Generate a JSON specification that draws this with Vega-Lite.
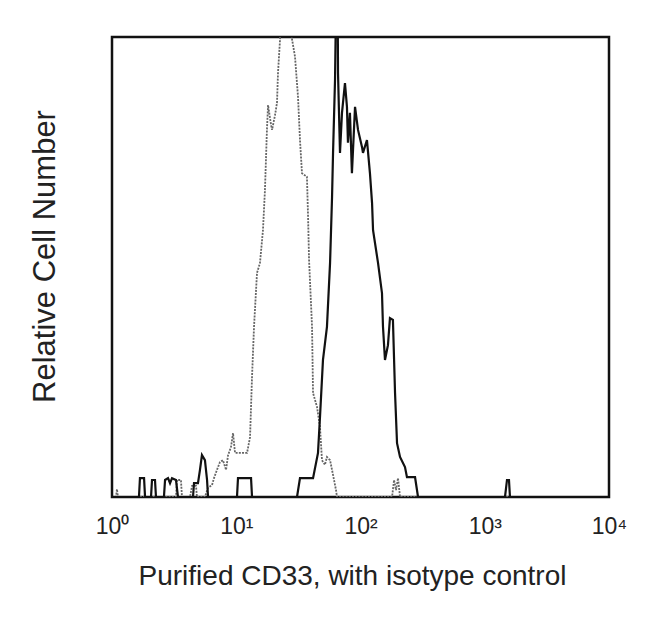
{
  "$schema": "https://vega.github.io/schema/vega-lite/v6.json",
  "width": 497,
  "height": 460,
  "autosize": {"type": "none"},
  "padding": {"left": 112, "top": 37, "right": 41, "bottom": 125},
  "config": {
    "view": {"stroke": "#111", "strokeWidth": 2.5},
    "font": "Liberation Sans"
  },
  "datasets": {
    "isotype": [
      {"log_intensity": 0.000, "cells": 0},
      {"log_intensity": 0.032, "cells": 0},
      {"log_intensity": 0.040, "cells": 1.7},
      {"log_intensity": 0.048, "cells": 0},
      {"log_intensity": 0.515, "cells": 0},
      {"log_intensity": 0.523, "cells": 3.7},
      {"log_intensity": 0.555, "cells": 3.7},
      {"log_intensity": 0.563, "cells": 0},
      {"log_intensity": 0.628, "cells": 0},
      {"log_intensity": 0.644, "cells": 2.4},
      {"log_intensity": 0.676, "cells": 2.4},
      {"log_intensity": 0.684, "cells": 0},
      {"log_intensity": 0.748, "cells": 0},
      {"log_intensity": 0.773, "cells": 2.0},
      {"log_intensity": 0.805, "cells": 2.6},
      {"log_intensity": 0.821, "cells": 4.1},
      {"log_intensity": 0.845, "cells": 5.9},
      {"log_intensity": 0.869, "cells": 7.6},
      {"log_intensity": 0.893, "cells": 8.0},
      {"log_intensity": 0.918, "cells": 5.9},
      {"log_intensity": 0.934, "cells": 9.1},
      {"log_intensity": 0.958, "cells": 10.9},
      {"log_intensity": 0.974, "cells": 13.9},
      {"log_intensity": 0.990, "cells": 9.6},
      {"log_intensity": 1.087, "cells": 9.6},
      {"log_intensity": 1.111, "cells": 13.0},
      {"log_intensity": 1.127, "cells": 26.1},
      {"log_intensity": 1.143, "cells": 37.0},
      {"log_intensity": 1.167, "cells": 48.7},
      {"log_intensity": 1.191, "cells": 50.9},
      {"log_intensity": 1.215, "cells": 58.0},
      {"log_intensity": 1.231, "cells": 66.7},
      {"log_intensity": 1.247, "cells": 79.8},
      {"log_intensity": 1.256, "cells": 85.2},
      {"log_intensity": 1.280, "cells": 80.9},
      {"log_intensity": 1.288, "cells": 79.8},
      {"log_intensity": 1.312, "cells": 83.0},
      {"log_intensity": 1.328, "cells": 85.7},
      {"log_intensity": 1.336, "cells": 92.2},
      {"log_intensity": 1.352, "cells": 99.3},
      {"log_intensity": 1.368, "cells": 115},
      {"log_intensity": 1.425, "cells": 120},
      {"log_intensity": 1.449, "cells": 99.5},
      {"log_intensity": 1.473, "cells": 95.7},
      {"log_intensity": 1.497, "cells": 87.0},
      {"log_intensity": 1.513, "cells": 77.6},
      {"log_intensity": 1.529, "cells": 70.4},
      {"log_intensity": 1.569, "cells": 69.6},
      {"log_intensity": 1.578, "cells": 60.9},
      {"log_intensity": 1.586, "cells": 51.5},
      {"log_intensity": 1.610, "cells": 37.0},
      {"log_intensity": 1.618, "cells": 22.6},
      {"log_intensity": 1.650, "cells": 19.6},
      {"log_intensity": 1.674, "cells": 15.2},
      {"log_intensity": 1.690, "cells": 8.0},
      {"log_intensity": 1.714, "cells": 7.0},
      {"log_intensity": 1.730, "cells": 8.7},
      {"log_intensity": 1.755, "cells": 8.0},
      {"log_intensity": 1.779, "cells": 4.8},
      {"log_intensity": 1.803, "cells": 1.5},
      {"log_intensity": 1.811, "cells": 0},
      {"log_intensity": 2.254, "cells": 0},
      {"log_intensity": 2.270, "cells": 3.7},
      {"log_intensity": 2.286, "cells": 1.5},
      {"log_intensity": 2.302, "cells": 4.1},
      {"log_intensity": 2.318, "cells": 0},
      {"log_intensity": 4.000, "cells": 0}
    ],
    "cd33": [
      {"log_intensity": 0.000, "cells": 0},
      {"log_intensity": 0.217, "cells": 0},
      {"log_intensity": 0.225, "cells": 4.1},
      {"log_intensity": 0.258, "cells": 4.1},
      {"log_intensity": 0.266, "cells": 0},
      {"log_intensity": 0.314, "cells": 0},
      {"log_intensity": 0.322, "cells": 3.7},
      {"log_intensity": 0.346, "cells": 3.7},
      {"log_intensity": 0.354, "cells": 0},
      {"log_intensity": 0.418, "cells": 0},
      {"log_intensity": 0.427, "cells": 3.7},
      {"log_intensity": 0.451, "cells": 4.1},
      {"log_intensity": 0.467, "cells": 3.0},
      {"log_intensity": 0.483, "cells": 4.1},
      {"log_intensity": 0.515, "cells": 3.7},
      {"log_intensity": 0.531, "cells": 0},
      {"log_intensity": 0.652, "cells": 0},
      {"log_intensity": 0.660, "cells": 3.0},
      {"log_intensity": 0.692, "cells": 3.0},
      {"log_intensity": 0.708, "cells": 5.9},
      {"log_intensity": 0.724, "cells": 9.1},
      {"log_intensity": 0.748, "cells": 8.0},
      {"log_intensity": 0.765, "cells": 3.7},
      {"log_intensity": 0.773, "cells": 0},
      {"log_intensity": 1.006, "cells": 0},
      {"log_intensity": 1.014, "cells": 4.1},
      {"log_intensity": 1.119, "cells": 4.1},
      {"log_intensity": 1.127, "cells": 0},
      {"log_intensity": 1.489, "cells": 0},
      {"log_intensity": 1.513, "cells": 4.1},
      {"log_intensity": 1.618, "cells": 4.1},
      {"log_intensity": 1.658, "cells": 9.6},
      {"log_intensity": 1.674, "cells": 17.4},
      {"log_intensity": 1.698, "cells": 29.8},
      {"log_intensity": 1.730, "cells": 37.0},
      {"log_intensity": 1.755, "cells": 50.9},
      {"log_intensity": 1.771, "cells": 65.2},
      {"log_intensity": 1.779, "cells": 74.8},
      {"log_intensity": 1.795, "cells": 90.7},
      {"log_intensity": 1.807, "cells": 115},
      {"log_intensity": 1.815, "cells": 115},
      {"log_intensity": 1.819, "cells": 92.2},
      {"log_intensity": 1.835, "cells": 74.8},
      {"log_intensity": 1.851, "cells": 83.5},
      {"log_intensity": 1.875, "cells": 90.0},
      {"log_intensity": 1.891, "cells": 84.8},
      {"log_intensity": 1.899, "cells": 77.0},
      {"log_intensity": 1.915, "cells": 83.5},
      {"log_intensity": 1.931, "cells": 70.4},
      {"log_intensity": 1.956, "cells": 84.8},
      {"log_intensity": 1.980, "cells": 79.8},
      {"log_intensity": 2.012, "cells": 76.1},
      {"log_intensity": 2.020, "cells": 74.8},
      {"log_intensity": 2.052, "cells": 77.6},
      {"log_intensity": 2.076, "cells": 70.4},
      {"log_intensity": 2.093, "cells": 63.9},
      {"log_intensity": 2.101, "cells": 58.0},
      {"log_intensity": 2.141, "cells": 50.9},
      {"log_intensity": 2.173, "cells": 44.3},
      {"log_intensity": 2.181, "cells": 37.0},
      {"log_intensity": 2.197, "cells": 29.8},
      {"log_intensity": 2.221, "cells": 33.0},
      {"log_intensity": 2.237, "cells": 38.9},
      {"log_intensity": 2.261, "cells": 38.5},
      {"log_intensity": 2.278, "cells": 22.6},
      {"log_intensity": 2.294, "cells": 11.7},
      {"log_intensity": 2.318, "cells": 8.7},
      {"log_intensity": 2.358, "cells": 6.5},
      {"log_intensity": 2.374, "cells": 4.3},
      {"log_intensity": 2.439, "cells": 4.3},
      {"log_intensity": 2.463, "cells": 0},
      {"log_intensity": 3.163, "cells": 0},
      {"log_intensity": 3.179, "cells": 3.7},
      {"log_intensity": 3.195, "cells": 3.7},
      {"log_intensity": 3.203, "cells": 0},
      {"log_intensity": 4.000, "cells": 0}
    ]
  },
  "encoding": {
    "x": {
      "field": "log_intensity",
      "type": "quantitative",
      "scale": {"domain": [0, 4], "nice": false, "zero": false},
      "axis": {
        "values": [0, 1, 2, 3, 4],
        "labelExpr": "['10⁰','10¹','10²','10³','10⁴'][datum.value]",
        "ticks": false,
        "tickSize": 0,
        "domain": false,
        "grid": false,
        "labelFlush": false,
        "labelFontSize": 23,
        "labelPadding": 36,
        "labelBaseline": "alphabetic",
        "labelColor": "#222",
        "title": "Purified CD33, with isotype control",
        "titleFontSize": 28,
        "titleFontWeight": "normal",
        "titleColor": "#222",
        "titleX": 240,
        "titleY": 87,
        "titleBaseline": "alphabetic"
      }
    },
    "y": {
      "field": "cells",
      "type": "quantitative",
      "scale": {"domain": [0, 100], "nice": false},
      "axis": {
        "labels": false,
        "ticks": false,
        "tickSize": 0,
        "domain": false,
        "grid": false,
        "title": "Relative Cell Number",
        "titleFontSize": 31,
        "titleFontWeight": "normal",
        "titleColor": "#222",
        "titleAngle": -90,
        "titleX": -58,
        "titleY": 219,
        "titleBaseline": "alphabetic"
      }
    }
  },
  "layer": [
    {
      "data": {"name": "isotype"},
      "mark": {"type": "line", "clip": true, "color": "#666", "strokeWidth": 1.8, "strokeDash": [2, 1.2]}
    },
    {
      "data": {"name": "cd33"},
      "mark": {"type": "line", "clip": true, "color": "#111", "strokeWidth": 2.2}
    }
  ]
}
